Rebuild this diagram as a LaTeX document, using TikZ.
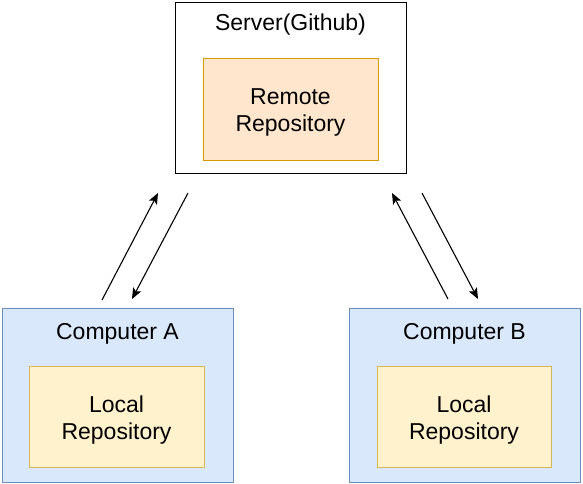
\documentclass[tikz,border=0pt]{standalone}
\usepackage{fontspec}
\setmainfont{Liberation Sans}
\usetikzlibrary{arrows.meta}
\definecolor{orfill}{HTML}{FFE6CC}
\definecolor{ordraw}{HTML}{D79B00}
\definecolor{blfill}{HTML}{DAE8FC}
\definecolor{bldraw}{HTML}{6C8EBF}
\definecolor{yefill}{HTML}{FFF2CC}
\definecolor{yedraw}{HTML}{D6B656}
\tikzset{
  box/.style={draw, line width=1pt, inner sep=0pt, outer sep=0pt},
  lbl/.style={font=\fontsize{23}{27}\selectfont, align=center, inner sep=0pt},
  conn/.style={line width=1.1pt, -{Stealth[length=11pt,width=9pt,inset=2.5pt]}}
}
\begin{document}
\begin{tikzpicture}[x=1pt,y=-1pt]
\useasboundingbox (0,0) rectangle (583,483);
% server
\draw[box, fill=white] (175,2) rectangle (406,173);
\node[lbl] (serverlbl) at (290.5,24.5) {Server(Github)};
\draw[box, draw=ordraw, fill=orfill] (203,58) rectangle (378,160);
\node[lbl] (remote) at (290.5,112) {Remote\\Repository};
% computer A
\draw[box, draw=bldraw, fill=blfill] (2,308) rectangle (233,482);
\node[lbl] (compA) at (117.5,333.5) {Computer A};
\draw[box, draw=yedraw, fill=yefill] (29,366) rectangle (204,467);
\node[lbl] (localA) at (116.5,420) {Local\\Repository};
% computer B
\draw[box, draw=bldraw, fill=blfill] (349,308) rectangle (580,482);
\node[lbl] (compB) at (464.5,333.5) {Computer B};
\draw[box, draw=yedraw, fill=yefill] (377,366) rectangle (551,467);
\node[lbl] (localB) at (464,420) {Local\\Repository};
% connector end points
\coordinate (a1s) at (102,300);
\coordinate (a1e) at (158,193);
\coordinate (a2s) at (188,193);
\coordinate (a2e) at (132,299);
\coordinate (b1s) at (448,299);
\coordinate (b1e) at (392,193);
\coordinate (b2s) at (422,193);
\coordinate (b2e) at (478,299);
\draw[conn] (a1s) -- (a1e);
\draw[conn] (a2s) -- (a2e);
\draw[conn] (b1s) -- (b1e);
\draw[conn] (b2s) -- (b2e);
\end{tikzpicture}
\end{document}
